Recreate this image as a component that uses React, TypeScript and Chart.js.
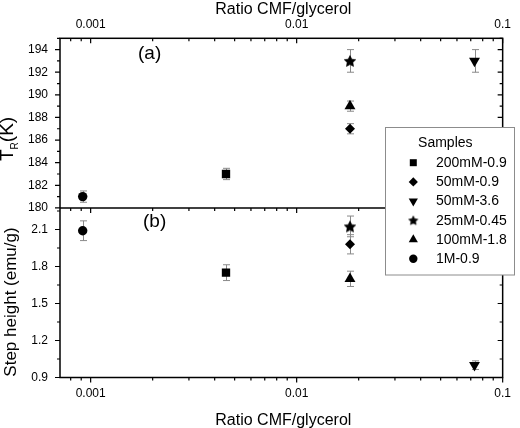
import React, { useEffect, useRef } from 'react';
import { Chart, registerables } from 'chart.js';

Chart.register(...registerables);

// ---- data ----
const SAMPLES = ['200mM-0.9', '50mM-0.9', '50mM-3.6', '25mM-0.45', '100mM-1.8', '1M-0.9'];
const RATIO = [0.00454, 0.01815, 0.073, 0.01815, 0.01815, 0.000915];
const TR = [183, 187, 193, 193, 189, 181];
const TR_ERR = [0.5, 0.45, 1.0, 1.0, 0.45, 0.5];
const STEP = [1.75, 1.98, 1.0, 2.125, 1.7, 2.09];
const STEP_ERR = [0.064, 0.078, 0.035, 0.084, 0.062, 0.08];
const MARKERS = ['square', 'diamond', 'triangleDown', 'star', 'triangle', 'circle'];

const X_TICKS = [0.001, 0.01, 0.1];
const TR_TICKS = [180, 182, 184, 186, 188, 190, 192, 194];
const STEP_TICKS = [0.9, 1.2, 1.5, 1.8, 2.1];

const X_MIN = 0.00071;
const X_MAX = 0.1;
const TR_MIN = 180;
const TR_MAX = 195;
const STEP_MIN = 0.9;
const STEP_MAX = 2.275;

const FONT = '"Liberation Sans", Arial, Helvetica, sans-serif';

function makeStar(r: number): HTMLCanvasElement {
  const c = document.createElement('canvas');
  const s = Math.ceil(2 * r + 2);
  c.width = s;
  c.height = s;
  const g = c.getContext('2d')!;
  const cx = s / 2;
  const cy = s / 2 + r * 0.1;
  g.beginPath();
  for (let k = 0; k < 10; k++) {
    const rad = k % 2 === 0 ? r : r * 0.5;
    const a = -Math.PI / 2 + (k * Math.PI) / 5;
    const px = cx + rad * Math.cos(a);
    const py = cy + rad * Math.sin(a);
    if (k === 0) g.moveTo(px, py);
    else g.lineTo(px, py);
  }
  g.closePath();
  g.fillStyle = '#000';
  g.fill();
  g.strokeStyle = '#000';
  g.lineWidth = 0.6;
  g.stroke();
  return c;
}

function markerOpts(kind: string, star: HTMLCanvasElement) {
  switch (kind) {
    case 'square':
      return { pointStyle: 'rect', pointRadius: 5.9, pointRotation: 0 };
    case 'diamond':
      return { pointStyle: 'rectRot', pointRadius: 5, pointRotation: 0 };
    case 'triangleDown':
      return { pointStyle: 'triangle', pointRadius: 6.3, pointRotation: 180 };
    case 'triangle':
      return { pointStyle: 'triangle', pointRadius: 6.3, pointRotation: 0 };
    case 'star':
      return { pointStyle: star, pointRadius: 6, pointRotation: 0 };
    default:
      return { pointStyle: 'circle', pointRadius: 4.7, pointRotation: 0 };
  }
}

function drawLegendMarker(ctx: CanvasRenderingContext2D, kind: string, x: number, y: number, star: HTMLCanvasElement) {
  ctx.save();
  ctx.fillStyle = '#000';
  ctx.beginPath();
  if (kind === 'square') {
    const h = 3.5;
    ctx.rect(x - h, y - h, 2 * h, 2 * h);
  } else if (kind === 'diamond') {
    const r = 4.6;
    ctx.moveTo(x, y - r);
    ctx.lineTo(x + r, y);
    ctx.lineTo(x, y + r);
    ctx.lineTo(x - r, y);
  } else if (kind === 'triangle' || kind === 'triangleDown') {
    const r = 5.3;
    const sgn = kind === 'triangle' ? 1 : -1;
    ctx.moveTo(x, y - sgn * r);
    ctx.lineTo(x + r * 0.866, y + sgn * r * 0.5);
    ctx.lineTo(x - r * 0.866, y + sgn * r * 0.5);
  } else if (kind === 'circle') {
    ctx.arc(x, y, 4.2, 0, Math.PI * 2);
  }
  ctx.closePath();
  if (kind === 'star') {
    ctx.drawImage(star, x - star.width / 2, y - star.height / 2);
  } else {
    ctx.fill();
  }
  ctx.restore();
}

export default function App() {
  const ref = useRef<HTMLCanvasElement>(null);

  useEffect(() => {
    const canvas = ref.current;
    if (!canvas) return;
    const star = makeStar(6);
    const legendStar = makeStar(4.8);

    const datasets: any[] = [];
    SAMPLES.forEach((name, i) => {
      const m = markerOpts(MARKERS[i], star);
      const common = {
        label: name,
        xAxisID: 'x',
        pointBackgroundColor: '#000',
        pointBorderColor: '#000',
        pointBorderWidth: 0,
        showLine: false,
        ...m,
      };
      datasets.push({ ...common, yAxisID: 'yT', data: [{ x: RATIO[i], y: TR[i] }], errors: [TR_ERR[i]] });
      datasets.push({ ...common, yAxisID: 'yB', data: [{ x: RATIO[i], y: STEP[i] }], errors: [STEP_ERR[i]] });
    });

    const tickFont = { family: FONT, size: 12 };

    const deco = {
      id: 'deco',
      beforeDatasetsDraw(chart: any) {
        const ctx = chart.ctx as CanvasRenderingContext2D;
        ctx.save();
        ctx.strokeStyle = '#8a8a8a';
        ctx.lineWidth = 1;
        chart.data.datasets.forEach((ds: any, i: number) => {
          const meta = chart.getDatasetMeta(i);
          const ys = chart.scales[ds.yAxisID];
          ds.data.forEach((p: any, j: number) => {
            const el = meta.data[j];
            const e = ds.errors[j];
            const x = Math.round(el.x) + 0.5;
            const y1 = ys.getPixelForValue(p.y + e);
            const y2 = ys.getPixelForValue(p.y - e);
            ctx.beginPath();
            ctx.moveTo(x, y1);
            ctx.lineTo(x, y2);
            ctx.moveTo(x - 3.5, y1);
            ctx.lineTo(x + 3.5, y1);
            ctx.moveTo(x - 3.5, y2);
            ctx.lineTo(x + 3.5, y2);
            ctx.stroke();
          });
        });
        ctx.restore();
      },
      afterDatasetsDraw(chart: any) {
        const ctx = chart.ctx as CanvasRenderingContext2D;
        const ca = chart.chartArea;
        const xs = chart.scales.x;
        const yT = chart.scales.yT;
        const yB = chart.scales.yB;
        const mid = yB.top;
        ctx.save();
        ctx.strokeStyle = '#000';
        ctx.lineWidth = 1.5;
        // frame
        ctx.strokeRect(ca.left, ca.top, ca.right - ca.left, ca.bottom - ca.top);
        ctx.beginPath();
        ctx.moveTo(ca.left, mid);
        ctx.lineTo(ca.right, mid);
        ctx.stroke();

        // x ticks (log): pointing down on bottom, top and middle axes
        ctx.lineWidth = 1.2;
        ctx.beginPath();
        for (let d = -4; d <= -1; d++) {
          for (let k = 1; k <= 9; k++) {
            const v = k * Math.pow(10, d);
            if (v < X_MIN * 0.999 || v > X_MAX * 1.001) continue;
            const px = xs.getPixelForValue(v);
            const len = k === 1 ? 5 : 3;
            [ca.top, mid, ca.bottom].forEach((yy: number) => {
              ctx.moveTo(px, yy);
              ctx.lineTo(px, yy + len);
            });
          }
        }
        // y ticks top panel
        for (let v = TR_MIN; v <= TR_MAX; v += 1) {
          const py = yT.getPixelForValue(v);
          const len = TR_TICKS.includes(v) ? 5 : 3;
          ctx.moveTo(ca.left, py);
          ctx.lineTo(ca.left - len, py);
          ctx.moveTo(ca.right, py);
          ctx.lineTo(ca.right - len, py);
        }
        // y ticks bottom panel
        for (let k = 0; k * 0.15 + STEP_MIN <= STEP_MAX + 1e-9; k++) {
          const v = STEP_MIN + k * 0.15;
          const py = yB.getPixelForValue(v);
          const len = k % 2 === 0 ? 5 : 3;
          ctx.moveTo(ca.left, py);
          ctx.lineTo(ca.left - len, py);
          ctx.moveTo(ca.right, py);
          ctx.lineTo(ca.right - len, py);
        }
        ctx.stroke();

        // axis titles
        ctx.fillStyle = '#000';
        ctx.textAlign = 'center';
        ctx.textBaseline = 'alphabetic';
        ctx.font = `16px ${FONT}`;
        const cx = (ca.left + ca.right) / 2 + 2;
        ctx.fillText('Ratio CMF/glycerol', cx, 13.5);
        ctx.fillText('Ratio CMF/glycerol', cx, 425);

        // T_R (K)
        ctx.save();
        ctx.translate(13, 161);
        ctx.rotate(-Math.PI / 2);
        ctx.textAlign = 'left';
        ctx.font = `19px ${FONT}`;
        ctx.fillText('T', 0, 0);
        let w = ctx.measureText('T').width;
        ctx.font = `10px ${FONT}`;
        ctx.fillText('R', w, 5);
        w += ctx.measureText('R').width;
        ctx.font = `19px ${FONT}`;
        ctx.fillText('(K)', w, 0);
        ctx.restore();

        // Step height
        ctx.save();
        ctx.translate(15.5, 302);
        ctx.rotate(-Math.PI / 2);
        ctx.textAlign = 'center';
        ctx.font = `17px ${FONT}`;
        ctx.fillText('Step height (emu/g)', 0, 0);
        ctx.restore();

        // panel labels
        ctx.textAlign = 'left';
        ctx.font = `19px ${FONT}`;
        ctx.fillText('(a)', ca.left + 78, ca.top + 21);
        ctx.fillText('(b)', ca.left + 83, mid + 19);

        // legend
        const lx = 385.5, ly = 127.5, lw = 129, lh = 147.5;
        ctx.fillStyle = '#fff';
        ctx.fillRect(lx, ly, lw, lh);
        ctx.strokeStyle = '#8c8c8c';
        ctx.lineWidth = 1;
        ctx.strokeRect(lx, ly, lw, lh);
        ctx.fillStyle = '#000';
        ctx.font = `14px ${FONT}`;
        ctx.textAlign = 'center';
        ctx.textBaseline = 'middle';
        ctx.fillText('Samples', 445.3, 143);
        ctx.textAlign = 'left';
        SAMPLES.forEach((name, i) => {
          const yy = 162.7 + i * 19.2;
          drawLegendMarker(ctx, MARKERS[i], 413.3, yy, legendStar);
          ctx.fillStyle = '#000';
          ctx.fillText(name, 436, yy + 0.5);
        });
        ctx.restore();
      },
    };

    const chart = new Chart(canvas, {
      type: 'scatter',
      data: { datasets },
      options: {
        animation: false,
        responsive: false,
        events: [],
        layout: { padding: { left: 0, right: 13.3, top: 0, bottom: 0 } },
        plugins: { legend: { display: false }, tooltip: { enabled: false } },
        scales: {
          x: {
            type: 'logarithmic',
            position: 'bottom',
            min: X_MIN,
            max: X_MAX,
            grid: { display: false, drawTicks: false },
            border: { display: false },
            ticks: {
              color: '#000',
              font: tickFont,
              padding: 9,
              autoSkip: false,
              maxRotation: 0,
              callback: (v: any) => String(Number(v)),
            },
            afterBuildTicks: (s: any) => {
              s.ticks = X_TICKS.map((v) => ({ value: v }));
            },
            afterFit: (s: any) => {
              s.height = 50.5;
            },
          },
          x2: {
            type: 'logarithmic',
            position: 'top',
            min: X_MIN,
            max: X_MAX,
            grid: { display: false, drawTicks: false },
            border: { display: false },
            ticks: {
              color: '#000',
              font: tickFont,
              padding: 6.5,
              autoSkip: false,
              maxRotation: 0,
              callback: (v: any) => String(Number(v)),
            },
            afterBuildTicks: (s: any) => {
              s.ticks = X_TICKS.map((v) => ({ value: v }));
            },
            afterFit: (s: any) => {
              s.height = 38.3;
            },
          },
          yB: {
            type: 'linear',
            position: 'left',
            stack: 'panels',
            stackWeight: 1,
            weight: 0,
            min: STEP_MIN,
            max: STEP_MAX,
            grid: { display: false, drawTicks: false },
            border: { display: false },
            ticks: {
              color: '#000',
              font: tickFont,
              padding: 12,
              autoSkip: false,
              callback: (v: any) => Number(v).toFixed(1),
            },
            afterBuildTicks: (s: any) => {
              s.ticks = STEP_TICKS.map((v) => ({ value: v }));
            },
            afterFit: (s: any) => {
              s.width = 60;
            },
          },
          yT: {
            type: 'linear',
            position: 'left',
            stack: 'panels',
            stackWeight: 1,
            weight: 1,
            min: TR_MIN,
            max: TR_MAX,
            grid: { display: false, drawTicks: false },
            border: { display: false },
            ticks: {
              color: '#000',
              font: tickFont,
              padding: 12,
              autoSkip: false,
              callback: (v: any) => String(v),
            },
            afterBuildTicks: (s: any) => {
              s.ticks = TR_TICKS.map((v) => ({ value: v }));
            },
            afterFit: (s: any) => {
              s.width = 60;
            },
          },
        },
      } as any,
      plugins: [deco as any],
    });

    return () => chart.destroy();
  }, []);

  return (
    <div style={{ position: 'absolute', left: 0, top: 0, width: 520, height: 428, background: '#fff' }}>
      <canvas ref={ref} width={520} height={428} style={{ display: 'block', width: 520, height: 428 }} />
    </div>
  );
}
